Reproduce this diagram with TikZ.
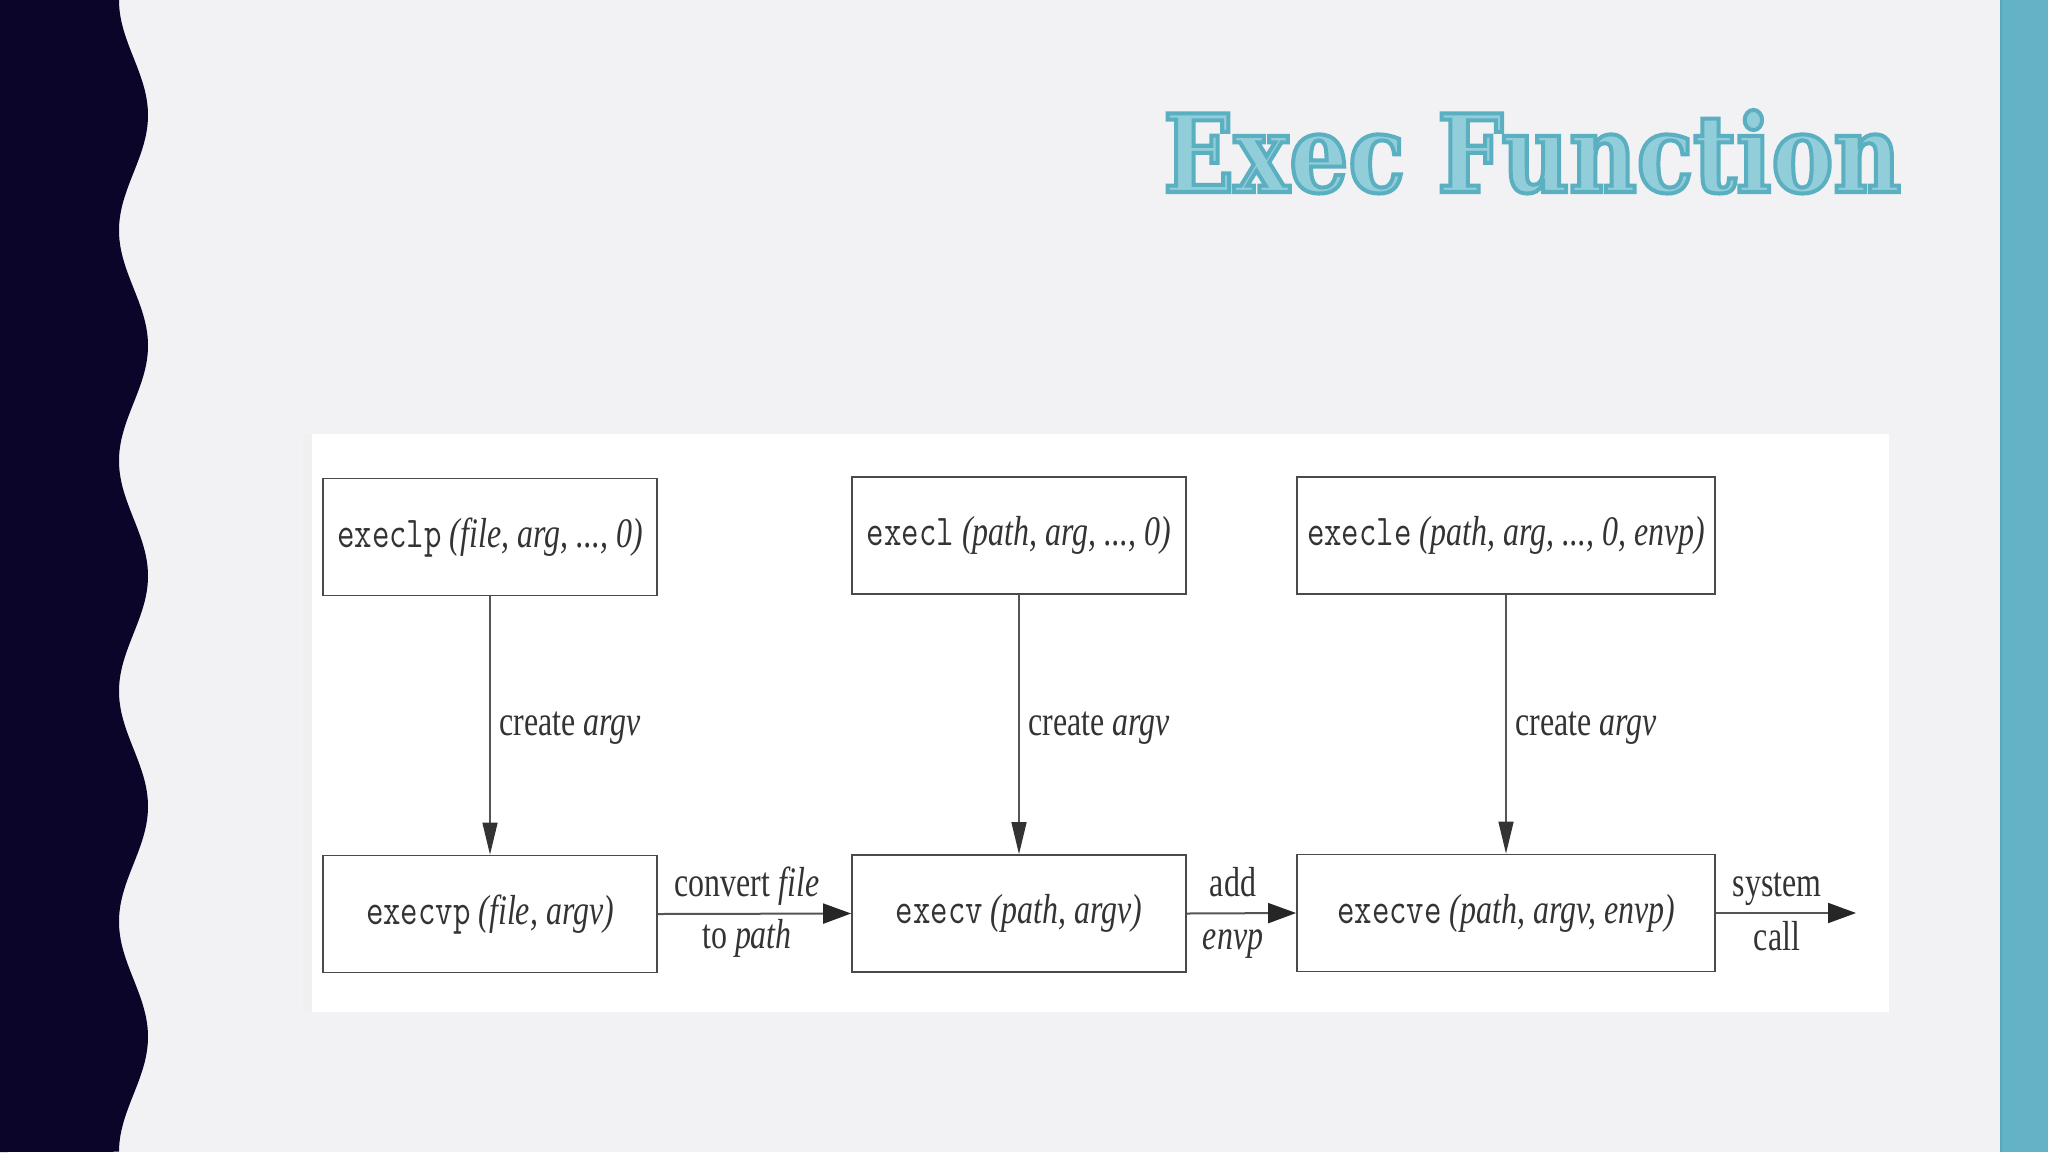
\documentclass[tikz,border=0pt]{standalone}
\usepackage{fontspec}
\newfontfamily\dserif[FakeStretch=0.76]{Liberation Serif}
\newfontfamily\dmono[FakeStretch=0.77]{Latin Modern Mono}
\newfontfamily\titlefont[FakeStretch=0.86]{DejaVu Serif}
\usetikzlibrary{arrows.meta}
\definecolor{bgc}{HTML}{F2F2F4}
\definecolor{darkc}{HTML}{0B0629}
\definecolor{tealbar}{HTML}{64B3C5}
\definecolor{tealedge}{HTML}{57A8BA}
\definecolor{titlefill}{HTML}{92CDDA}
\definecolor{boxline}{HTML}{4A4A4A}
\definecolor{arrline}{HTML}{555555}
\definecolor{textc}{HTML}{333333}
\newcommand\fnlabel[2]{{\dmono\fontsize{44}{48}\selectfont #1} {\itshape #2}}
\newcommand\outlinetext[1]{\special{pdf:literal direct 2 Tr 4 w 0.353 0.686 0.757 RG}#1\special{pdf:literal direct 0 Tr}}
\tikzset{
  fnbox/.style={draw=boxline, line width=1.8pt, fill=white, minimum height=117pt,
    text height=20pt, text depth=0pt, inner sep=0pt, text=textc,
    font=\dserif\fontsize{42}{50}\selectfont},
  harr/.style={draw=arrline, line width=2pt, -{Triangle[length=28pt,width=20pt,color=black!85]}},
  varr/.style={draw=arrline, line width=1.5pt, -{Triangle[length=32pt,width=15pt,color=black!80]}},
  lbl/.style={font=\dserif\fontsize{42}{50}\selectfont, inner sep=0pt, text=textc},
}
\begin{document}
\begin{tikzpicture}[x=1pt,y=-1pt]
\useasboundingbox (0,0) rectangle (2048,1152);
\fill[bgc] (0,0) rectangle (2048,1152);
% wavy dark band
\fill[darkc] (0,0) -- plot[domain=0:5, samples=241, smooth] ({133.5-14.5*cos(360*\x)}, {230.4*\x}) -- (0,1152) -- cycle;
% teal bar
\fill[tealbar] (2000,0) rectangle (2048,1152);
\fill[tealedge] (2000,0) rectangle (2002,1152);
% title
\node[anchor=base west, inner sep=0pt, text=titlefill, font=\titlefont\bfseries\fontsize{108}{120}\selectfont] (title) at (1163,192) {\outlinetext{Exec Function}};
% panel
\fill[black!6] (303,434) rectangle (1889,1012);
\fill[white] (312,434) rectangle (1889,1012);
% boxes
\node[fnbox, minimum width=334pt] (lp) at (490,537) {\fnlabel{execlp}{(file, arg, ..., 0)}};
\node[fnbox, minimum width=334pt] (l) at (1019,535.5) {\fnlabel{execl}{(path, arg, ..., 0)}};
\node[fnbox, minimum width=418pt] (le) at (1506,535.5) {\fnlabel{execle}{(path, arg, ..., 0, envp)}};
\node[fnbox, minimum width=334pt] (vp) at (490,914) {\fnlabel{execvp}{(file, argv)}};
\node[fnbox, minimum width=334pt] (v) at (1019,913.5) {\fnlabel{execv}{(path, argv)}};
\node[fnbox, minimum width=418pt] (ve) at (1506,913) {\fnlabel{execve}{(path, argv, envp)}};
% vertical arrows
\draw[varr] (lp.south) -- (vp.north);
\draw[varr] (l.south) -- (v.north);
\draw[varr] (le.south) -- (ve.north);
\node[lbl, anchor=base west] (c1) at (499,735) {create \itshape argv};
\node[lbl, anchor=base west] (c2) at (1028,735) {create \itshape argv};
\node[lbl, anchor=base west] (c3) at (1515,735) {create \itshape argv};
% horizontal arrows
\coordinate (sys) at (1856,913);
\draw[harr] (vp.east) -- (v.west);
\draw[harr] (v.east) -- (ve.west);
\draw[harr] (ve.east) -- (sys);
\node[lbl, anchor=base] (t1) at (747,896) {convert \itshape file};
\node[lbl, anchor=base] (t2) at (747,948) {to \itshape path};
\node[lbl, anchor=base] (t3) at (1233,896) {add};
\node[lbl, anchor=base] (t4) at (1233,949) {\itshape envp};
\node[lbl, anchor=base] (t5) at (1777,896) {system};
\node[lbl, anchor=base] (t6) at (1777,950) {call};
\end{tikzpicture}
\end{document}
